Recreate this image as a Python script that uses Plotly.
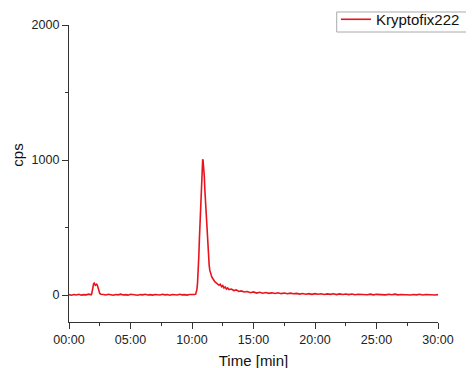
import plotly.graph_objects as go

# --- data (time in minutes, signal in cps) ---
t_base1 = [0.0, 0.2, 0.4, 0.6, 0.8, 1.0, 1.2, 1.4, 1.6, 1.8]
v_base1 = [3, -2, 4, 0, 5, -1, 3, 1, 6, 2]

t_peak1 = [1.85, 1.9, 1.95, 2.0, 2.05, 2.1, 2.15, 2.2, 2.25, 2.3, 2.35, 2.4, 2.45, 2.5, 2.6, 2.7]
v_peak1 = [10, 45, 70, 82, 88, 80, 72, 76, 80, 74, 60, 42, 25, 12, 6, 3]

t_base2 = [2.8, 3.0, 3.2, 3.4, 3.6, 3.8, 4.0, 4.2, 4.4, 4.6, 4.8, 5.0, 5.2, 5.4, 5.6, 5.8,
           6.0, 6.2, 6.4, 6.6, 6.8, 7.0, 7.2, 7.4, 7.6, 7.8, 8.0, 8.2, 8.4, 8.6, 8.8,
           9.0, 9.2, 9.4, 9.6, 9.8, 10.0, 10.2]
v_base2 = [4, 0, 5, 2, -2, 4, 1, 6, 0, 3, -1, 5, 2, 4, -2, 3,
           1, 5, 0, 3, -1, 4, 2, 0, 5, 1, 3, -2, 4, 2, 0,
           5, 1, 3, -1, 4, 2, 4]

t_peak2 = [10.3, 10.35, 10.4, 10.45, 10.5, 10.55, 10.6, 10.65, 10.7, 10.75, 10.8, 10.85,
           10.87, 10.9, 10.95, 11.0, 11.05, 11.1, 11.15, 11.2, 11.25, 11.3, 11.35, 11.4,
           11.45, 11.5, 11.55, 11.6, 11.65, 11.7, 11.75, 11.8, 11.85, 11.9, 11.95, 12.0]
v_peak2 = [6, 18, 42, 90, 160, 280, 410, 530, 640, 790, 910, 990,
           1005, 995, 950, 880, 770, 680, 590, 480, 390, 320, 260, 215,
           182, 160, 148, 135, 128, 118, 112, 106, 99, 96, 92, 88]

t_tail = [12.1, 12.2, 12.3, 12.4, 12.5, 12.6, 12.7, 12.8, 12.9, 13.0, 13.2, 13.4, 13.6,
          13.8, 14.0, 14.25, 14.5, 14.75, 15.0, 15.25, 15.5, 15.75, 16.0, 16.25, 16.5,
          16.75, 17.0, 17.25, 17.5, 17.75, 18.0, 18.25, 18.5, 18.75, 19.0, 19.25, 19.5,
          19.75, 20.0, 20.25, 20.5, 20.75, 21.0, 21.25, 21.5, 21.75, 22.0, 22.25, 22.5,
          22.75, 23.0, 23.25, 23.5, 23.75, 24.0, 24.25, 24.5, 24.75, 25.0, 25.25, 25.5,
          25.75, 26.0, 26.25, 26.5, 26.75, 27.0, 27.25, 27.5, 27.75, 28.0, 28.25, 28.5,
          28.75, 29.0, 29.25, 29.5, 29.75, 30.0]
v_tail = [86, 72, 80, 62, 70, 52, 60, 44, 52, 40, 44, 33, 38,
          26, 30, 22, 26, 17, 23, 14, 20, 13, 18, 12, 16,
          11, 17, 10, 15, 9, 14, 9, 12, 7, 11, 6, 10,
          5, 10, 6, 9, 4, 8, 5, 9, 3, 8, 4, 7,
          3, 7, 2, 6, 4, 7, 2, 6, 1, 5, 3, 6,
          1, 5, 2, 6, 1, 4, 2, 5, 0, 4, 1, 5,
          0, 4, 1, 3, 0, 3]

time = t_base1 + t_peak1 + t_base2 + t_peak2 + t_tail
cps = v_base1 + v_peak1 + v_base2 + v_peak2 + v_tail

x_tickvals = [0, 5, 10, 15, 20, 25, 30]
x_ticktext = ["00:00", "05:00", "10:00", "15:00", "20:00", "25:00", "30:00"]
y_tickvals = [0, 1000, 2000]

FONT = "Liberation Sans, Arial, sans-serif"
AX = "#333333"

fig = go.Figure()
fig.add_trace(go.Scatter(x=time, y=cps, mode="lines", name="Kryptofix222",
                         line=dict(color="#e8141c", width=1.6)))

# thin legend frame
fig.add_shape(type="rect", xref="paper", yref="paper",
              x0=0.7255, x1=1.0778, y0=0.9764, y1=1.0438,
              line=dict(color="#aaaaaa", width=1), fillcolor="rgba(0,0,0,0)", layer="above")

# y-axis title
fig.add_annotation(text="cps", xref="paper", yref="paper", x=-0.1382, y=0.56,
                   xanchor="center", yanchor="middle", textangle=-90, showarrow=False,
                   borderpad=0,
                   font=dict(size=15, family=FONT, color="#111111"))

fig.update_layout(
    width=474, height=368,
    margin=dict(l=61, r=44, t=17, b=54, autoexpand=False),
    paper_bgcolor="white", plot_bgcolor="white",
    font=dict(family=FONT, color="#222222", size=12),
    showlegend=True,
    legend=dict(x=1.073, y=1.074, xanchor="right", yanchor="top",
                borderwidth=0, bgcolor="rgba(0,0,0,0)",
                font=dict(size=15, family=FONT, color="#111111"),
                itemwidth=30, tracegroupgap=0),
    xaxis=dict(range=[0, 30], showgrid=False, zeroline=False, automargin=False,
               showline=True, linecolor=AX, linewidth=1.2,
               ticks="outside", ticklen=6, tickwidth=1.2, tickcolor=AX,
               tickvals=x_tickvals, ticktext=x_ticktext,
               tickfont=dict(size=12.5, family=FONT, color="#222222"),
               minor=dict(dtick=2.5, tick0=0, ticks="outside", ticklen=3, tickwidth=1, tickcolor=AX),
               title=dict(text="Time [min]", font=dict(size=15, family=FONT, color="#111111"), standoff=9)),
    yaxis=dict(range=[-200, 2000], showgrid=False, zeroline=False, automargin=False,
               showline=True, linecolor=AX, linewidth=1.2,
               ticks="outside", ticklen=6, tickwidth=1.2, tickcolor=AX,
               tickvals=y_tickvals,
               tickfont=dict(size=12.5, family=FONT, color="#222222"),
               minor=dict(dtick=500, tick0=0, ticks="outside", ticklen=3, tickwidth=1, tickcolor=AX)),
)

fig.write_html("out.html")
